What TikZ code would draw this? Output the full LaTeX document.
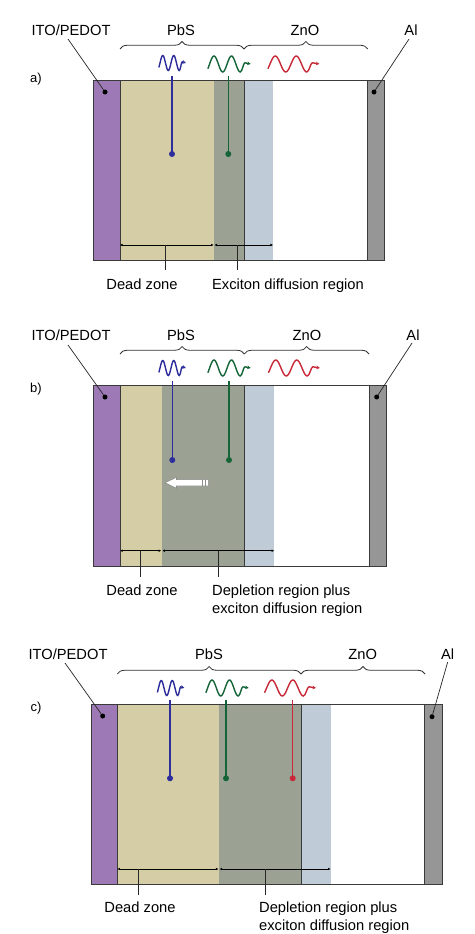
\documentclass[tikz,border=0pt]{standalone}
\usepackage{fontspec}
\setmainfont{Liberation Sans}
\usetikzlibrary{decorations.pathreplacing,arrows.meta}
\definecolor{itoc}{HTML}{9D7AB5}
\definecolor{tanc}{HTML}{D5CDA5}
\definecolor{darkz}{HTML}{9BA294}
\definecolor{lblue}{HTML}{C0CBD8}
\definecolor{alc}{HTML}{969696}
\definecolor{wblue}{RGB}{45,45,155}
\definecolor{wgreen}{RGB}{20,100,55}
\definecolor{wred}{RGB}{200,40,55}
\definecolor{framec}{HTML}{3A3A3A}
\newcommand{\photon}[5]{%
  \pgfmathsetmacro{\tx}{#2+1.75*#4}%
  \pgfmathsetmacro{\ty}{#3+#5}%
  \pgfmathsetmacro{\bx}{#2+2.02*#4}%
  \pgfmathsetmacro{\by}{#3-0.15*#5}%
  \pgfmathsetmacro{\ex}{#2+2.35*#4}%
  \pgfmathsetmacro{\cxa}{\tx+0.12*#4}%
  \pgfmathsetmacro{\cxb}{\bx-0.1*#4}%
  \draw[wave,#1] plot[domain=-0.1:1.75,samples=40,smooth,variable=\t] ({#2+#4*\t},{#3-#5*sin(360*\t)})
    .. controls (\cxa,\ty) and (\cxb,\by) .. (\bx,\by) -- (\ex,#3);
}
\begin{document}
\begin{tikzpicture}[x=1pt,y=-1pt,
  lbl/.style={font=\fontsize{14.7}{17}\selectfont,inner sep=0pt,anchor=base},
  lbll/.style={font=\fontsize{14.7}{17}\selectfont,inner sep=0pt,anchor=base west},
  plbl/.style={font=\fontsize{13}{15}\selectfont,inner sep=0pt,anchor=base},
  frame/.style={draw=framec,line width=0.9pt},
  lead/.style={draw=black!85,line width=0.7pt},
  brc/.style={draw=black!80,line width=0.8pt,decorate,decoration={brace,amplitude=7.5pt}},
  dim/.style={draw=black,line width=0.7pt,{Latex[length=2.6pt,width=2.6pt]}-{Latex[length=2.6pt,width=2.6pt]}},
  wave/.style={line width=1.4pt,-{Stealth[length=3.5pt,width=3.5pt]}},
  probe/.style={line width=1.5pt},
  dotm/.style={circle,inner sep=0pt,minimum size=5pt}
]
\useasboundingbox (0,0) rectangle (474,934);
\fill[white] (0,0) rectangle (474,934);

%================= panel a =================
\fill[tanc] (120,80) rectangle (214,260);
\fill[darkz] (214,80) rectangle (244,260);
\fill[lblue] (244,80) rectangle (273.3,260);
\filldraw[fill=itoc,frame] (93.3,80) rectangle (120,260);
\filldraw[fill=alc,frame] (367,80) rectangle (384.3,260);
\draw[frame] (93.3,80) rectangle (384.3,260);
\draw[frame] (244,80) -- (244,260);

\node[lbl] (itoA) at (71,36) {ITO/PEDOT};
\node[lbl] (pbsA) at (181,36) {PbS};
\node[lbl] (znoA) at (305,36) {ZnO};
\node[lbl] (alA) at (411,36) {Al};
\node[plbl] (labA) at (36,82.4) {a)};
\draw[brc] (120,49) -- (244,49);
\draw[brc] (244,49) -- (367.7,49);
\coordinate (itoStartA) at (68,39);
\node[dotm,fill=black] (itoDotA) at (105,92) {};
\draw[lead] (itoStartA) -- (itoDotA);
\coordinate (alStartA) at (409,39);
\node[dotm,fill=black] (alDotA) at (374,92) {};
\draw[lead] (alStartA) -- (alDotA);

\photon{wblue}{160}{63}{11}{7.5}
\photon{wgreen}{209.6}{64}{17.5}{8}
\photon{wred}{270}{64}{21}{8}
\coordinate (bTopA) at (172,76);
\node[dotm,fill=wblue,minimum size=6pt] (bDotA) at (172,154) {};
\draw[probe,wblue] (bTopA) -- (bDotA.center);
\coordinate (gTopA) at (228.3,76);
\node[dotm,fill=wgreen,minimum size=6pt] (gDotA) at (228.3,154) {};
\draw[probe,wgreen] (gTopA) -- (gDotA.center);

\coordinate (d1A) at (120,245);
\coordinate (d2A) at (213.7,245);
\coordinate (d3A) at (214.5,245);
\coordinate (d4A) at (273,245);
\draw[dim] (d1A) -- (d2A);
\draw[dim] (d3A) -- (d4A);
\coordinate (l1A) at (165,245);
\coordinate (l1eA) at (165,270);
\coordinate (l2A) at (237,245);
\coordinate (l2eA) at (237,270);
\draw[lead] (l1A) -- (l1eA);
\draw[lead] (l2A) -- (l2eA);
\node[lbl] (deadA) at (142,289.3) {Dead zone};
\node[lbl] (excA) at (288,289.3) {Exciton diffusion region};

%================= panel b =================
\fill[tanc] (120,385) rectangle (161.7,566.7);
\fill[darkz] (161.7,385) rectangle (244.3,566.7);
\fill[lblue] (244.3,385) rectangle (274.3,566.7);
\filldraw[fill=itoc,frame] (93.3,385) rectangle (120,566.7);
\filldraw[fill=alc,frame] (369,385) rectangle (386.7,566.7);
\draw[frame] (93.3,385) rectangle (386.7,566.7);
\draw[frame] (244.3,385) -- (244.3,566.7);

\node[lbl] (itoB) at (71,340.3) {ITO/PEDOT};
\node[lbl] (pbsB) at (181,340.3) {PbS};
\node[lbl] (znoB) at (307,340.3) {ZnO};
\node[lbl] (alB) at (413,340.3) {Al};
\node[plbl] (labB) at (36,392.4) {b)};
\draw[brc] (120,354) -- (244.3,354);
\draw[brc] (244.3,354) -- (369,354);
\coordinate (itoStartB) at (68,345);
\node[dotm,fill=black] (itoDotB) at (105,397) {};
\draw[lead] (itoStartB) -- (itoDotB);
\coordinate (alStartB) at (412,343);
\node[dotm,fill=black] (alDotB) at (376.7,397) {};
\draw[lead] (alStartB) -- (alDotB);

\photon{wblue}{160}{368}{11}{7.5}
\photon{wgreen}{209.6}{368}{17.5}{8}
\photon{wred}{270.5}{368}{21}{8}
\coordinate (bTopB) at (172.3,381);
\node[dotm,fill=wblue,minimum size=6pt] (bDotB) at (172.3,460) {};
\draw[probe,wblue] (bTopB) -- (bDotB.center);
\coordinate (gTopB) at (229,381);
\node[dotm,fill=wgreen,minimum size=6pt] (gDotB) at (229,460) {};
\draw[probe,wgreen] (gTopB) -- (gDotB.center);

% white drift arrow
\filldraw[fill=white,draw=black!45,line width=0.6pt]
  (165,482.7) -- (176.5,477.3) -- (176.5,479.6) -- (208.3,479.6) -- (208.3,486) -- (176.5,486) -- (176.5,488.3) -- cycle;
\draw[black!45,line width=0.5pt] (202,479.6) -- (202,486) (205,479.6) -- (205,486);

\coordinate (d1B) at (120,550.7);
\coordinate (d2B) at (161.2,550.7);
\coordinate (d3B) at (162.2,550.7);
\coordinate (d4B) at (274.3,550.7);
\draw[dim] (d1B) -- (d2B);
\draw[dim] (d3B) -- (d4B);
\coordinate (l1B) at (140,550.7);
\coordinate (l1eB) at (140,577);
\coordinate (l2B) at (218,550.7);
\coordinate (l2eB) at (218,577);
\draw[lead] (l1B) -- (l1eB);
\draw[lead] (l2B) -- (l2eB);
\node[lbl] (deadB) at (142,595.3) {Dead zone};
\node[lbll] (depB1) at (212,595.3) {Depletion region plus};
\node[lbll] (depB2) at (212,613) {exciton diffusion region};

%================= panel c =================
\fill[tanc] (117.3,704.3) rectangle (219,884.3);
\fill[darkz] (219,704.3) rectangle (301,884.3);
\fill[lblue] (301,704.3) rectangle (330.7,884.3);
\filldraw[fill=itoc,frame] (91,704.3) rectangle (117.3,884.3);
\filldraw[fill=alc,frame] (424.3,704.3) rectangle (442,884.3);
\draw[frame] (91,704.3) rectangle (442,884.3);
\draw[frame] (301,704.3) -- (301,884.3);

\node[lbl] (itoC) at (68,659.6) {ITO/PEDOT};
\node[lbl] (pbsC) at (209,659.6) {PbS};
\node[lbl] (znoC) at (362.7,659.6) {ZnO};
\node[lbl] (alC) at (447.7,659.6) {Al};
\node[plbl] (labC) at (36,711) {c)};
\draw[brc] (117.3,674) -- (301,674);
\draw[brc] (301,674) -- (425,674);
\coordinate (itoStartC) at (65,663);
\node[dotm,fill=black] (itoDotC) at (102.7,716) {};
\draw[lead] (itoStartC) -- (itoDotC);
\coordinate (alStartC) at (447.7,662);
\node[dotm,fill=black] (alDotC) at (432,716.7) {};
\draw[lead] (alStartC) -- (alDotC);

\photon{wblue}{158.5}{688}{11}{7.5}
\photon{wgreen}{207.6}{688}{17.5}{8}
\photon{wred}{266.6}{688}{21}{8}
\coordinate (bTopC) at (170,700);
\node[dotm,fill=wblue,minimum size=6pt] (bDotC) at (170,778.3) {};
\draw[probe,wblue] (bTopC) -- (bDotC.center);
\coordinate (gTopC) at (226,700);
\node[dotm,fill=wgreen,minimum size=6pt] (gDotC) at (226,778.3) {};
\draw[probe,wgreen] (gTopC) -- (gDotC.center);
\coordinate (rTopC) at (292.7,700);
\node[dotm,fill=wred,minimum size=6pt] (rDotC) at (292.7,778.3) {};
\draw[probe,wred] (rTopC) -- (rDotC.center);

\coordinate (d1C) at (117.3,869);
\coordinate (d2C) at (218.5,869);
\coordinate (d3C) at (219.5,869);
\coordinate (d4C) at (330.7,869);
\draw[dim] (d1C) -- (d2C);
\draw[dim] (d3C) -- (d4C);
\coordinate (l1C) at (138,869);
\coordinate (l1eC) at (138,895);
\coordinate (l2C) at (265.7,869);
\coordinate (l2eC) at (265.7,895);
\draw[lead] (l1C) -- (l1eC);
\draw[lead] (l2C) -- (l2eC);
\node[lbl] (deadC) at (140,912.3) {Dead zone};
\node[lbll] (depC1) at (259,912.3) {Depletion region plus};
\node[lbll] (depC2) at (259,930.3) {exciton diffusion region};
\end{tikzpicture}
\end{document}
